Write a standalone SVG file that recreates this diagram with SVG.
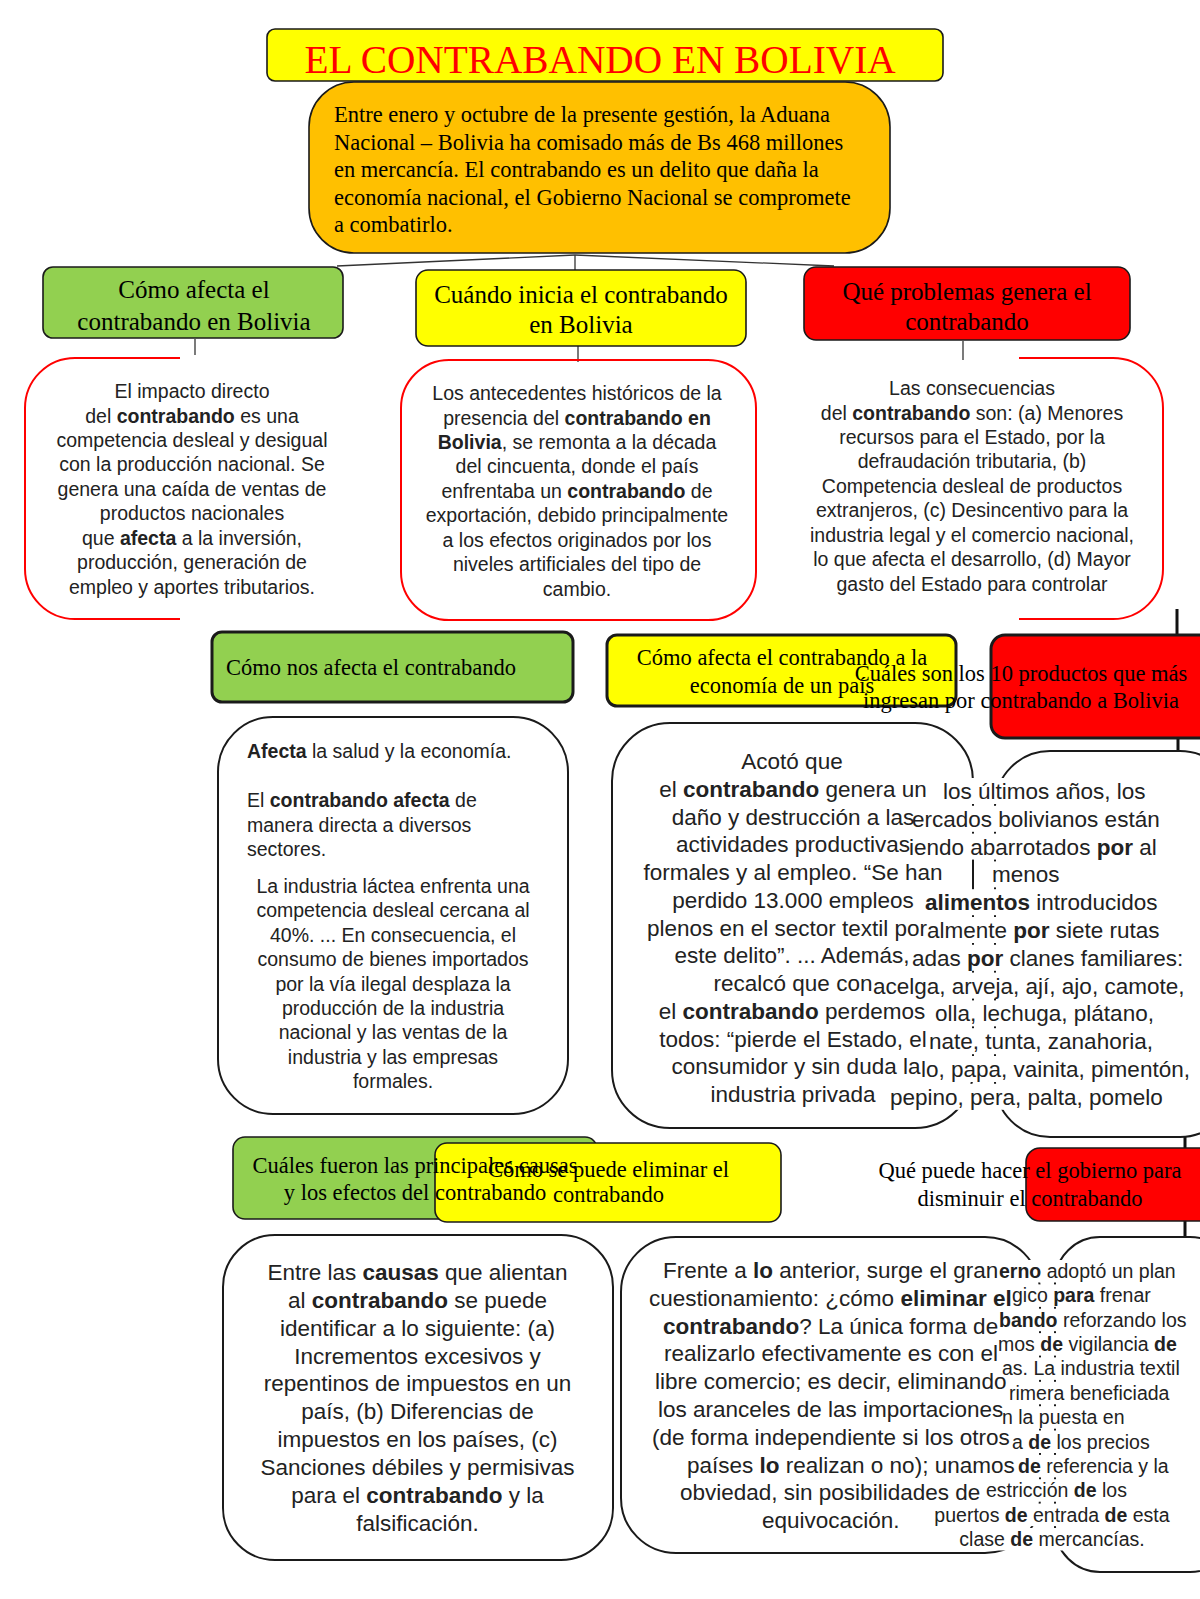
<svg xmlns="http://www.w3.org/2000/svg" width="1200" height="1599" viewBox="0 0 1200 1599">
<style>
.serif{font-family:"Liberation Serif","Times New Roman",serif;fill:#000;}
.sans{font-family:"Liberation Sans",Arial,sans-serif;fill:#222;}
.h25{font-size:25px;}
.h22{font-size:22.5px;}
.s19{font-size:19.5px;}
.s22{font-size:22.5px;}
.b{font-weight:bold;}
.mid{text-anchor:middle;}
.hb{stroke:#1a1a1a;stroke-width:1.6;}
.hb3{stroke:#1a1a1a;stroke-width:3;}
.red{fill:none;stroke:#ff0000;stroke-width:2;}
.blk{fill:#fff;stroke:#1a1a1a;stroke-width:2;}
.con{stroke:#333;stroke-width:1.3;fill:none;}
.thick{stroke:#111;stroke-width:3;fill:none;}
.wb{fill:#fff;}
.g{fill:#92d050;}
.y{fill:#ffff00;}
.r{fill:#ff0000;}
</style>
<rect width="1200" height="1599" fill="#fff"/>

<g id="connectors">
<line class="con" x1="575" y1="255" x2="337" y2="266"/>
<line class="con" x1="575" y1="255" x2="575" y2="270"/>
<line class="con" x1="575" y1="255" x2="834" y2="266"/>
<line class="con" x1="195" y1="339" x2="195" y2="355"/>
<line class="con" x1="578" y1="346" x2="578" y2="362"/>
<line class="con" x1="963" y1="341" x2="963" y2="360"/>
<line class="thick" x1="1177" y1="609" x2="1177" y2="635"/>
<line class="thick" x1="1178" y1="738" x2="1178" y2="751"/>
<line class="thick" x1="1185" y1="1137" x2="1185" y2="1148"/>
<line class="thick" x1="1185" y1="1221" x2="1185" y2="1237"/>
</g>

<g id="title">
<rect x="267" y="29" width="676" height="52" rx="8" class="y hb"/>
<text x="600" y="73" class="serif mid" font-size="39.3" style="fill:#ff0000">EL CONTRABANDO EN BOLIVIA</text>
</g>

<g id="intro">
<rect x="309" y="82" width="581" height="171" rx="45" fill="#ffc000" class="hb"/>
<text class="serif h22" x="334" y="122">Entre enero y octubre de la presente gestión, la Aduana</text>
<text class="serif h22" x="334" y="149.5">Nacional – Bolivia ha comisado más de Bs 468 millones</text>
<text class="serif h22" x="334" y="177">en mercancía. El contrabando es un delito que daña la</text>
<text class="serif h22" x="334" y="204.5">economía nacional, el Gobierno Nacional se compromete</text>
<text class="serif h22" x="334" y="232">a combatirlo.</text>
</g>

<g id="h-afecta-bolivia">
<rect x="43" y="267" width="300" height="71" rx="10" class="g hb"/>
<text class="serif h25 mid" x="194" y="298">Cómo afecta el</text>
<text class="serif h25 mid" x="194" y="330">contrabando en Bolivia</text>
</g>
<g id="h-cuando-inicia">
<rect x="416" y="270" width="330" height="76" rx="12" class="y hb"/>
<text class="serif h25 mid" x="581" y="303">Cuándo inicia el contrabando</text>
<text class="serif h25 mid" x="581" y="333">en Bolivia</text>
</g>
<g id="h-problemas">
<rect x="804" y="267" width="326" height="73" rx="12" class="r hb"/>
<text class="serif h25 mid" x="967" y="300">Qué problemas genera el</text>
<text class="serif h25 mid" x="967" y="330">contrabando</text>
</g>

<g id="t-impacto">
<path class="red" d="M180,358 H75 A50,50 0 0 0 25,408 V569 A50,50 0 0 0 75,619 H180"/>
<text class="sans s19 mid" x="192" y="398">El impacto directo</text>
<text class="sans s19 mid" x="192" y="422.5">del <tspan class="b">contrabando</tspan> es una</text>
<text class="sans s19 mid" x="192" y="447">competencia desleal y desigual</text>
<text class="sans s19 mid" x="192" y="471.3">con la producción nacional. Se</text>
<text class="sans s19 mid" x="192" y="495.8">genera una caída de ventas de</text>
<text class="sans s19 mid" x="192" y="520.2">productos nacionales</text>
<text class="sans s19 mid" x="192" y="544.7">que <tspan class="b">afecta</tspan> a la inversión,</text>
<text class="sans s19 mid" x="192" y="569.1">producción, generación de</text>
<text class="sans s19 mid" x="192" y="593.6">empleo y aportes tributarios.</text>
</g>

<g id="t-antecedentes">
<rect class="red" x="401" y="360" width="355" height="260" rx="48"/>
<text class="sans s19 mid" x="577" y="400">Los antecedentes históricos de la</text>
<text class="sans s19 mid" x="577" y="424.5">presencia del <tspan class="b">contrabando en</tspan></text>
<text class="sans s19 mid" x="577" y="449"><tspan class="b">Bolivia</tspan>, se remonta a la década</text>
<text class="sans s19 mid" x="577" y="473.3">del cincuenta, donde el país</text>
<text class="sans s19 mid" x="577" y="497.8">enfrentaba un <tspan class="b">contrabando</tspan> de</text>
<text class="sans s19 mid" x="577" y="522.2">exportación, debido principalmente</text>
<text class="sans s19 mid" x="577" y="546.7">a los efectos originados por los</text>
<text class="sans s19 mid" x="577" y="571.1">niveles artificiales del tipo de</text>
<text class="sans s19 mid" x="577" y="595.6">cambio.</text>
</g>

<g id="t-consecuencias">
<path class="red" d="M1019,358 H1113 A50,50 0 0 1 1163,408 V569 A50,50 0 0 1 1113,619 H1019"/>
<text class="sans s19 mid" x="972" y="395">Las consecuencias</text>
<text class="sans s19 mid" x="972" y="419.5">del <tspan class="b">contrabando</tspan> son: (a) Menores</text>
<text class="sans s19 mid" x="972" y="444">recursos para el Estado, por la</text>
<text class="sans s19 mid" x="972" y="468.3">defraudación tributaria, (b)</text>
<text class="sans s19 mid" x="972" y="492.8">Competencia desleal de productos</text>
<text class="sans s19 mid" x="972" y="517.2">extranjeros, (c) Desincentivo para la</text>
<text class="sans s19 mid" x="972" y="541.7">industria legal y el comercio nacional,</text>
<text class="sans s19 mid" x="972" y="566.1">lo que afecta el desarrollo, (d) Mayor</text>
<text class="sans s19 mid" x="972" y="590.6">gasto del Estado para controlar</text>
</g>

<g id="h-nos-afecta">
<rect x="212" y="632" width="361" height="70" rx="10" class="g hb3"/>
<text class="serif h22" x="226" y="675">Cómo nos afecta el contrabando</text>
</g>
<g id="h-economia">
<rect x="607" y="635" width="349" height="71" rx="10" class="y hb3"/>
<text class="serif h22 mid" x="782" y="665">Cómo afecta el contrabando a la</text>
<text class="serif h22 mid" x="782" y="693">economía de un país</text>
</g>
<g id="h-productos">
<rect x="991" y="635" width="229" height="103" rx="14" class="r hb3"/>
<text class="serif h22 mid" x="1021" y="681">Cuáles son los 10 productos que más</text>
<text class="serif h22 mid" x="1021" y="708">ingresan por contrabando a Bolivia</text>
</g>

<g id="t-salud">
<rect class="blk" x="218" y="717" width="350" height="397" rx="55"/>
<text class="sans s19" x="247" y="758"><tspan class="b">Afecta</tspan> la salud y la economía.</text>
<text class="sans s19" x="247" y="807">El <tspan class="b">contrabando afecta</tspan> de</text>
<text class="sans s19" x="247" y="832">manera directa a diversos</text>
<text class="sans s19" x="247" y="856">sectores.</text>
<text class="sans s19 mid" x="393" y="893">La industria láctea enfrenta una</text>
<text class="sans s19 mid" x="393" y="917.4">competencia desleal cercana al</text>
<text class="sans s19 mid" x="393" y="941.8">40%. ... En consecuencia, el</text>
<text class="sans s19 mid" x="393" y="966.2">consumo de bienes importados</text>
<text class="sans s19 mid" x="393" y="990.6">por la vía ilegal desplaza la</text>
<text class="sans s19 mid" x="393" y="1015">producción de la industria</text>
<text class="sans s19 mid" x="393" y="1039.4">nacional y las ventas de la</text>
<text class="sans s19 mid" x="393" y="1063.8">industria y las empresas</text>
<text class="sans s19 mid" x="393" y="1088.2">formales.</text>
</g>

<g id="t-productos">
<rect class="blk" x="995" y="751" width="240" height="386" rx="55"/>
</g>
<g id="t-acoto-box">
<rect class="blk" x="612" y="723" width="361" height="405" rx="58"/>
</g>
<g id="t-productos-text">
<rect class="wb" x="940" y="778" width="255" height="26"/>
<rect class="wb" x="909" y="805.8" width="286" height="26"/>
<rect class="wb" x="905" y="833.6" width="290" height="26"/>
<rect class="wb" x="989" y="861.4" width="206" height="26"/>
<rect class="wb" x="912" y="889.2" width="283" height="26"/>
<rect class="wb" x="918" y="917" width="277" height="26"/>
<rect class="wb" x="906" y="944.8" width="289" height="26"/>
<rect class="wb" x="870" y="972.6" width="325" height="26"/>
<rect class="wb" x="922" y="1000.4" width="273" height="26"/>
<rect class="wb" x="924" y="1028.2" width="271" height="26"/>
<rect class="wb" x="918" y="1056" width="277" height="26"/>
<rect class="wb" x="887" y="1083.8" width="308" height="26"/>
<text class="sans s22" x="943" y="799">los últimos años, los</text>
<text class="sans s22" x="912" y="826.8">ercados bolivianos están</text>
<text class="sans s22" x="909" y="854.6">iendo abarrotados <tspan class="b">por</tspan> al</text>
<text class="sans s22" x="992" y="882.4">menos</text>
<text class="sans s22" x="925" y="910.2"><tspan class="b">alimentos</tspan> introducidos</text>
<text class="sans s22" x="927" y="938">almente <tspan class="b">por</tspan> siete rutas</text>
<text class="sans s22" x="912" y="965.8">adas <tspan class="b">por</tspan> clanes familiares:</text>
<text class="sans s22" x="873" y="993.6">acelga, arveja, ají, ajo, camote,</text>
<text class="sans s22" x="935" y="1021.4">olla, lechuga, plátano,</text>
<text class="sans s22" x="929" y="1049.2">nate, tunta, zanahoria,</text>
<text class="sans s22" x="921" y="1077">lo, papa, vainita, pimentón,</text>
<text class="sans s22" x="890" y="1104.8">pepino, pera, palta, pomelo</text>
</g>
<g id="t-acoto">
<text class="sans s22 mid" x="792" y="769">Acotó que</text>
<text class="sans s22 mid" x="793" y="796.8">el <tspan class="b">contrabando</tspan> genera un</text>
<text class="sans s22 mid" x="793" y="824.5">daño y destrucción a las</text>
<text class="sans s22 mid" x="793" y="852.3">actividades productivas</text>
<text class="sans s22 mid" x="793" y="880">formales y al empleo. “Se han</text>
<text class="sans s22 mid" x="793" y="907.8">perdido 13.000 empleos</text>
<text class="sans s22 mid" x="787" y="935.5">plenos en el sector textil por</text>
<text class="sans s22 mid" x="792" y="963.3">este delito”. ... Además,</text>
<text class="sans s22 mid" x="793" y="991">recalcó que con</text>
<text class="sans s22 mid" x="792" y="1018.8">el <tspan class="b">contrabando</tspan> perdemos</text>
<text class="sans s22 mid" x="793" y="1046.5">todos: “pierde el Estado, el</text>
<text class="sans s22 mid" x="796" y="1074.3">consumidor y sin duda la</text>
<text class="sans s22 mid" x="793" y="1102">industria privada</text>
</g>

<g id="h-causas">
<rect x="233" y="1137" width="364" height="82" rx="12" class="g hb"/>
</g>
<g id="h-eliminar">
<rect x="435" y="1143" width="346" height="79" rx="12" class="y hb"/>
<text class="serif h22 mid" x="608.5" y="1177">Cómo se puede eliminar el</text>
<text class="serif h22 mid" x="608.5" y="1202">contrabando</text>
</g>
<g id="h-causas-text">
<text class="serif h22 mid" x="415" y="1173">Cuáles fueron las principales causas</text>
<text class="serif h22 mid" x="415" y="1200">y los efectos del contrabando</text>
</g>
<g id="h-gobierno">
<rect x="1026" y="1148" width="194" height="73" rx="14" class="r hb"/>
<text class="serif h22 mid" x="1030" y="1178">Qué puede hacer el gobierno para</text>
<text class="serif h22 mid" x="1030" y="1206">disminuir el contrabando</text>
</g>

<g id="t-causas">
<rect class="blk" x="223" y="1235" width="390" height="325" rx="52"/>
<text class="sans s22 mid" x="417.5" y="1280">Entre las <tspan class="b">causas</tspan> que alientan</text>
<text class="sans s22 mid" x="417.5" y="1307.9">al <tspan class="b">contrabando</tspan> se puede</text>
<text class="sans s22 mid" x="417.5" y="1335.7">identificar a lo siguiente: (a)</text>
<text class="sans s22 mid" x="417.5" y="1363.6">Incrementos excesivos y</text>
<text class="sans s22 mid" x="417.5" y="1391.4">repentinos de impuestos en un</text>
<text class="sans s22 mid" x="417.5" y="1419.3">país, (b) Diferencias de</text>
<text class="sans s22 mid" x="417.5" y="1447.1">impuestos en los países, (c)</text>
<text class="sans s22 mid" x="417.5" y="1475">Sanciones débiles y permisivas</text>
<text class="sans s22 mid" x="417.5" y="1502.8">para el <tspan class="b">contrabando</tspan> y la</text>
<text class="sans s22 mid" x="417.5" y="1530.7">falsificación.</text>
</g>

<g id="t-frente-box">
<rect class="blk" x="621" y="1237" width="419" height="316" rx="55"/>
</g>
<g id="t-gobierno">
<rect class="blk" x="1055" y="1237" width="180" height="335" rx="45"/>
<rect class="wb" x="997" y="1260" width="200" height="22.5"/>
<rect class="wb" x="1010" y="1284.4" width="187" height="22.5"/>
<rect class="wb" x="997" y="1308.7" width="200" height="22.5"/>
<rect class="wb" x="995" y="1333.1" width="202" height="22.5"/>
<rect class="wb" x="1000" y="1357.4" width="197" height="22.5"/>
<rect class="wb" x="1006" y="1381.8" width="191" height="22.5"/>
<rect class="wb" x="1000" y="1406.2" width="197" height="22.5"/>
<rect class="wb" x="1009" y="1430.5" width="188" height="22.5"/>
<rect class="wb" x="1015" y="1454.9" width="182" height="22.5"/>
<rect class="wb" x="983" y="1479.2" width="214" height="22.5"/>
<rect class="wb" x="931" y="1503.6" width="266" height="22.5"/>
<rect class="wb" x="956" y="1528" width="241" height="22.5"/>
<text class="sans s19" x="999" y="1278"><tspan class="b">erno</tspan> adoptó un plan</text>
<text class="sans s19" x="1012" y="1302.4">gico <tspan class="b">para</tspan> frenar</text>
<text class="sans s19" x="999" y="1326.7"><tspan class="b">bando</tspan> reforzando los</text>
<text class="sans s19" x="998" y="1351.1">mos <tspan class="b">de</tspan> vigilancia <tspan class="b">de</tspan></text>
<text class="sans s19" x="1002" y="1375.4">as. La industria textil</text>
<text class="sans s19" x="1009" y="1399.8">rimera beneficiada</text>
<text class="sans s19" x="1002" y="1424.2">n la puesta en</text>
<text class="sans s19" x="1012" y="1448.5">a <tspan class="b">de</tspan> los precios</text>
<text class="sans s19" x="1018" y="1472.9"><tspan class="b">de</tspan> referencia y la</text>
<text class="sans s19" x="986" y="1497.2">estricción <tspan class="b">de</tspan> los</text>
<text class="sans s19 mid" x="1052" y="1521.6">puertos <tspan class="b">de</tspan> entrada <tspan class="b">de</tspan> esta</text>
<text class="sans s19 mid" x="1052" y="1546">clase <tspan class="b">de</tspan> mercancías.</text>
</g>
<g id="t-frente">
<text class="sans s22" x="663" y="1278">Frente a <tspan class="b">lo</tspan> anterior, surge el gran</text>
<text class="sans s22" x="649" y="1305.8">cuestionamiento: ¿cómo <tspan class="b">eliminar el</tspan></text>
<text class="sans s22" x="663" y="1333.6"><tspan class="b">contrabando</tspan>? La única forma de</text>
<text class="sans s22" x="664" y="1361.4">realizarlo efectivamente es con el</text>
<text class="sans s22" x="655" y="1389.2">libre comercio; es decir, eliminando</text>
<text class="sans s22" x="658" y="1417">los aranceles de las importaciones</text>
<text class="sans s22" x="652" y="1444.8">(de forma independiente si los otros</text>
<text class="sans s22" x="687" y="1472.6">países <tspan class="b">lo</tspan> realizan o no); unamos</text>
<text class="sans s22" x="680" y="1500.4">obviedad, sin posibilidades de</text>
<text class="sans s22" x="762" y="1528.2">equivocación.</text>
</g>
</svg>
